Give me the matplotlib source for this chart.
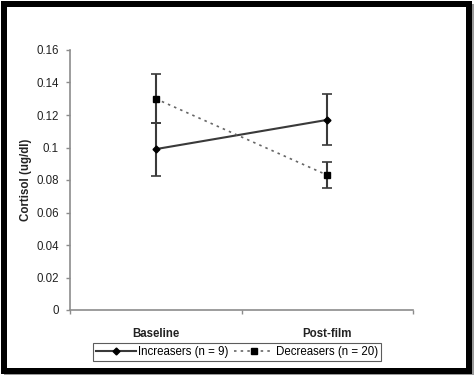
import matplotlib
matplotlib.use("Agg")
import matplotlib.pyplot as plt
from matplotlib.patches import Rectangle
from matplotlib.lines import Line2D

plt.rcParams['font.family'] = ['Liberation Sans', 'DejaVu Sans']

categories = ["Baseline", "Post-film"]
inc_mean = [0.099, 0.117]
inc_err = [0.0163, 0.0157]
dec_mean = [0.130, 0.083]
dec_err = [0.015, 0.0082]
yticks = [0, 0.02, 0.04, 0.06, 0.08, 0.1, 0.12, 0.14, 0.16]
ytick_labels = ["0", "0.02", "0.04", "0.06", "0.08", "0.1", "0.12", "0.14", "0.16"]
series_labels = ["Increasers (n = 9)", "Decreasers (n = 20)"]

W, H = 474, 375
fig = plt.figure(figsize=(W / 100, H / 100), dpi=100)

# frame: grey shadow then black border
fig.patches.append(Rectangle((4 / W, 0), (W - 4) / W, (H - 4) / H, transform=fig.transFigure,
                             facecolor="#9a9a9a", edgecolor="none", zorder=-10))
fig.patches.append(Rectangle((1 / W, 1 / H), (W - 3) / W, (H - 2) / H, transform=fig.transFigure,
                             facecolor="black", edgecolor="none", zorder=-9))
fig.patches.append(Rectangle((7 / W, 7 / H), (W - 15) / W, (H - 14) / H, transform=fig.transFigure,
                             facecolor="white", edgecolor="none", zorder=-8))

ax = fig.add_axes([70 / W, (H - 310) / H, (413 - 70) / W, 260 / H])
ax.set_facecolor("none")
x = [0, 1]
axis_col = "#8c8c8c"
fs = 8.3

inc_style = dict(color="#3a3a3a", lw=1.5, marker="D", ms=3.5, mfc="black", mec="black")
dec_style = dict(color="#666666", lw=1.2, ls=(0, (1.5, 2.5)), marker="s", ms=4,
                 mfc="black", mec="black")

ax.errorbar(x, inc_mean, yerr=inc_err, capsize=3.5, elinewidth=1.5, capthick=1.2,
            zorder=3, **inc_style)
ax.errorbar(x, dec_mean, yerr=dec_err, capsize=3.5, elinewidth=1.5, capthick=1.2,
            ecolor="#3a3a3a", zorder=3, **dec_style)

ax.set_xlim(-0.5, 1.5)
ax.set_ylim(0, 0.16)
ax.set_yticks(yticks)
ax.set_yticklabels(ytick_labels, fontsize=fs, color="#222222")
ax.set_xticks(x)
ax.set_xticklabels(categories, fontsize=fs, color="#222222", fontweight="bold")
ax.set_xticks([-0.5, 0.5, 1.5], minor=True)
ax.tick_params(axis="x", which="major", length=0, pad=13)
ax.tick_params(axis="x", which="minor", length=3, color=axis_col, width=1)
ax.tick_params(axis="y", length=3, color=axis_col, width=1, pad=5)

for s in ["top", "right"]:
    ax.spines[s].set_visible(False)
for s in ["left", "bottom"]:
    ax.spines[s].set_color(axis_col)
    ax.spines[s].set_linewidth(1.2)

ax.set_ylabel("Cortisol (ug/dl)", fontsize=fs, fontweight="bold", color="#222222", labelpad=3)

handles = [Line2D([], [], **inc_style), Line2D([], [], **dec_style)]
leg = ax.legend(handles, series_labels, loc="center", bbox_to_anchor=(237 / W, (H - 352) / H),
                bbox_transform=fig.transFigure, ncol=2, fontsize=fs, frameon=True,
                fancybox=False, handlelength=3.4, columnspacing=0.5, handletextpad=0.2,
                borderpad=0.3, borderaxespad=0)
leg.get_frame().set_edgecolor("#333333")
leg.get_frame().set_linewidth(0.8)

fig.savefig("out.png", dpi=100)
